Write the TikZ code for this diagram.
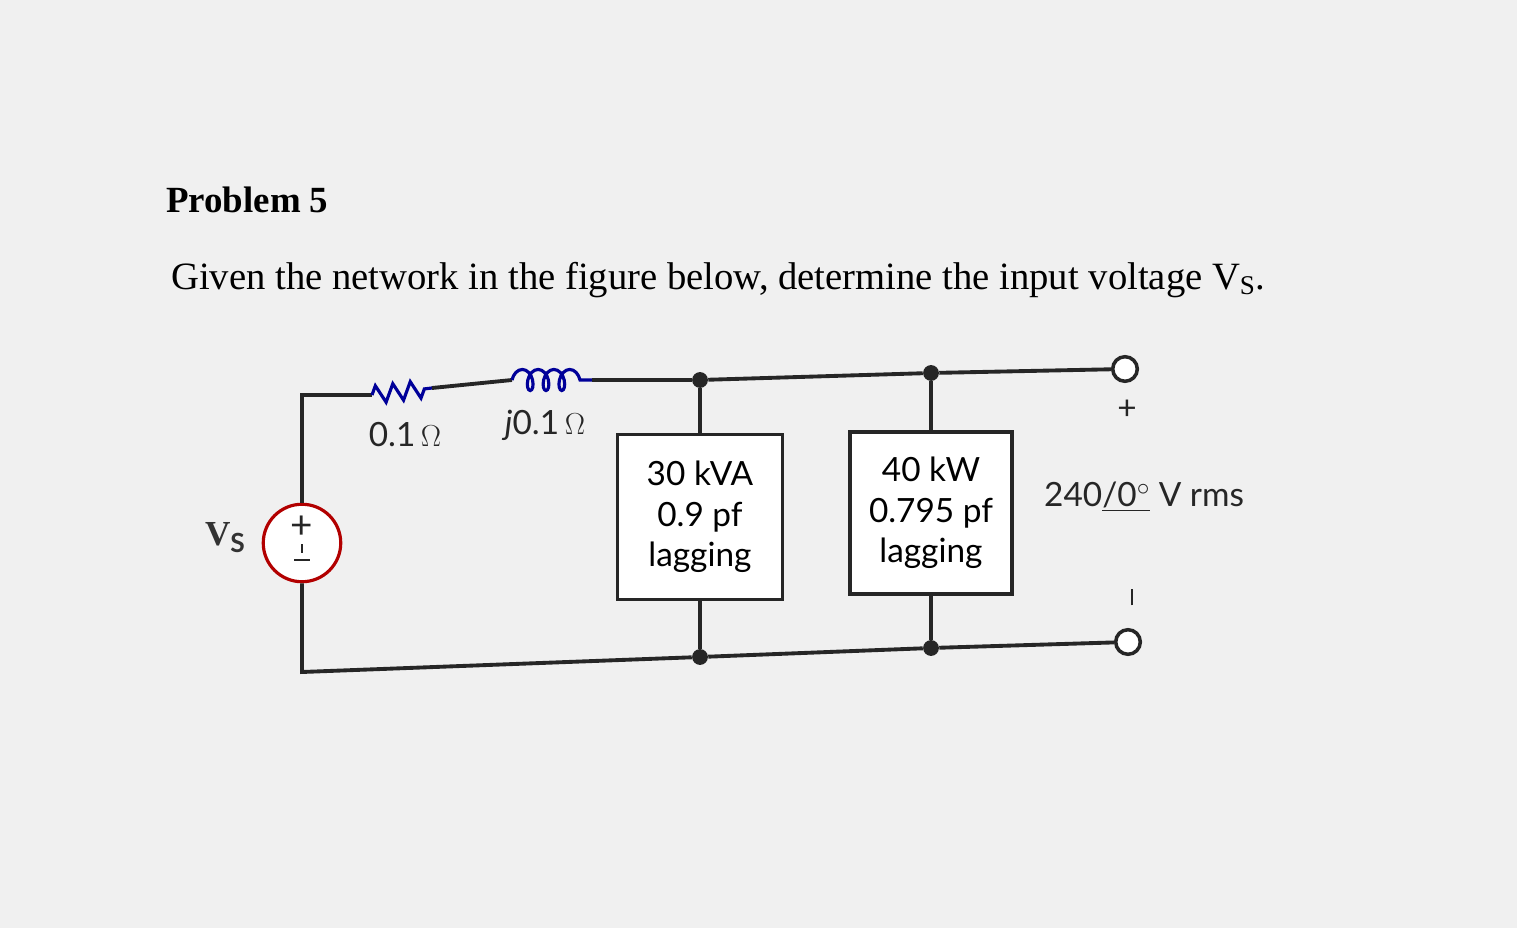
\documentclass[tikz,border=0pt]{standalone}
\usepackage{fontspec}
\setmainfont{Liberation Serif}
\newfontfamily\lbl{Lato}
\usetikzlibrary{decorations.pathmorphing}
\begin{document}
\begin{tikzpicture}[x=0.02cm,y=-0.02cm,
  wire/.style={line width=2.2pt,black!85},
  dot/.style={circle,fill=black!85,inner sep=0pt,minimum size=9pt},
  term/.style={circle,draw=black!85,line width=2pt,fill=white,inner sep=0pt,minimum size=14pt},
  lab/.style={font=\lbl\fontsize{19}{22}\selectfont,text=black!85},
  loadbox/.style={draw=black!85,line width=2.2pt,fill=white,align=center,font=\lbl\fontsize{19}{23}\selectfont,inner sep=4pt}]
\fill[gray!12] (0,0) rectangle (1517,928);
\node[anchor=west,font=\bfseries\fontsize{21}{24}\selectfont] (title) at (160,200) {Problem 5};
\node[anchor=west,font=\fontsize{22}{26}\selectfont] (text) at (165,280) {Given the network in the figure below, determine the input voltage V\textsubscript{S}.};
% source
\node[circle,draw=red!70!black,line width=1.8pt,fill=white,inner sep=0pt,minimum size=1.55cm] (vs) at (302,543) {};
\node[font=\lbl\fontsize{22}{22}\selectfont,text=black!85] (vsp) at (302,527) {+};
\node[text=black!85] (vsm) at (302,560) {\rule{9pt}{1.3pt}};
\draw[black!85,line width=1.3pt] (vsp.south) -- (vsm.north);
\node[font=\bfseries\fontsize{20}{20}\selectfont,text=black!80] (vslab) at (225,538) {V\raisebox{-4pt}{\fontsize{15}{15}\selectfont\lbl S}};
% coordinates
\coordinate (tl) at (302,395);
\coordinate (r1) at (372,395);
\coordinate (r2) at (432,388);
\coordinate (l1) at (512,380);
\coordinate (l2) at (592,380);
\node[dot] (n1) at (700,380) {};
\node[dot] (n2) at (931,373) {};
\node[term] (t1) at (1125,369) {};
\coordinate (bl) at (302,672);
\node[dot] (n3) at (700,657) {};
\node[dot] (n4) at (931,648) {};
\node[term] (t2) at (1128,642) {};
% wires
\draw[wire] (vs.north) -- (tl) -- (r1);
\draw[line width=1.8pt,blue!60!black,decorate,decoration={zigzag,segment length=10pt,amplitude=5pt}] (r1) -- (r2);
\draw[wire] (r2) -- (l1);
\draw[line width=1.8pt,blue!60!black,decorate,decoration={coil,aspect=0.6,segment length=9pt,amplitude=6pt}] (l1) -- (l2);
\draw[wire] (l2) -- (n1) -- (n2) -- (t1);
\draw[wire] (vs.south) -- (bl) -- (n3) -- (n4) -- (t2);
% boxes
\node[loadbox,minimum width=3.3cm,minimum height=3.3cm] (b1) at (700,517) {30 kVA\\0.9 pf\\lagging};
\node[loadbox,minimum width=3.25cm,minimum height=3.25cm] (b2) at (931,513) {40 kW\\0.795 pf\\lagging};
\draw[wire] (n1) -- (b1.north);
\draw[wire] (b1.south) -- (n3);
\draw[wire] (n2) -- (b2.north);
\draw[wire] (b2.south) -- (n4);
% labels
\node[lab] (lr) at (405,435) {0.1\,$\Omega$};
\node[lab] (ll) at (545,425) {\textit{j}0.1\,$\Omega$};
\node[lab] (plus) at (1127,410) {+};
\node[lab] (minus) at (1132,600) {\rule[3pt]{1.5pt}{9pt}};
\node[lab,anchor=west] (vout) at (1038,497) {240\underline{/0$^\circ$} V rms};
\end{tikzpicture}
\end{document}
